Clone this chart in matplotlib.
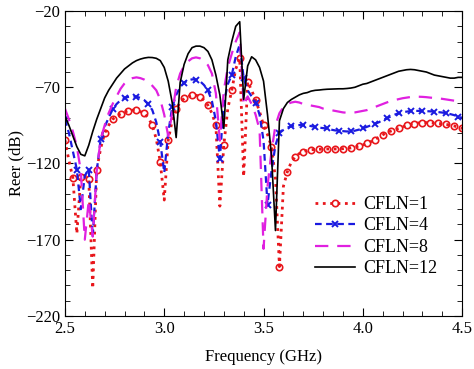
import matplotlib
matplotlib.use("Agg")
import matplotlib.pyplot as plt
import numpy as np
from matplotlib.ticker import MultipleLocator

plt.rcParams["font.family"] = ["Liberation Serif", "DejaVu Serif"]
plt.rcParams["font.size"] = 12

# frequency grid, 0.02 GHz step (2.50 ... 4.50)
freq = np.round(np.arange(2.50, 4.5001, 0.02), 2)

cfln1 = [-104.6, -118, -129.7, -166, -129, -128, -130.4, -202, -124, -110,
         -100.2, -95, -91, -89, -87.5, -86.3, -85.4, -85, -85.2, -86,
         -87.2, -90, -95, -104, -119, -144, -104.6, -92, -84, -80,
         -77.3, -76, -75.2, -75.2, -76.2, -78.5, -81.8, -87, -95, -148,
         -108, -84, -72, -58, -51, -128.6, -66.4, -72, -78.4, -86,
         -95, -101, -109, -130, -187.7, -135, -125.4, -119, -115.5, -113.5,
         -112.3, -111.5, -111, -110.8, -110.7, -110.6, -110.5, -110.5, -110.5, -110.5,
         -110.3, -110, -109.8, -109.3, -108.6, -107.8, -106.8, -105.7, -104.3, -102.8,
         -101.2, -99.8, -98.8, -97.8, -97, -96, -95, -94.3, -93.8, -93.4,
         -93.2, -93.2, -93.3, -93.5, -93.7, -94, -94.4, -94.8, -95.4, -96.2,
         -97]

cfln4 = [-91, -100, -112, -124, -150, -128, -124, -168, -125, -104,
         -96, -90, -84.5, -81, -78.5, -77, -76.3, -76, -76.2, -77,
         -78.5, -81, -85, -93, -106, -126, -100, -83, -75, -70,
         -67, -65.5, -64.8, -65, -66, -68.5, -72, -79, -92, -117,
         -80, -68, -62, -50, -42, -64, -72, -76, -80, -88,
         -105, -147, -125, -108, -100, -98, -96.5, -95.5, -95, -94.8,
         -94.8, -95, -95.5, -96, -96.5, -96.8, -97, -97.8, -98.3, -98.5,
         -98.8, -99, -99, -98.5, -97.8, -97, -96, -95, -94, -93,
         -91.5, -90.4, -89.2, -88, -87, -86.3, -86, -85.6, -85.5, -85.5,
         -85.6, -85.7, -85.8, -86, -86.3, -86.6, -87, -87.6, -88.3, -89.3,
         -90]

cfln8 = [-84, -91, -99, -109, -125, -170, -144, -168, -125, -104,
         -95, -87, -81, -76, -71, -67.5, -65, -64, -63.5, -64,
         -65, -66.5, -69, -72, -78, -88, -102, -87, -70, -61,
         -56, -53, -51, -50.4, -51, -52.5, -55.5, -61, -74, -105,
         -72, -57, -48, -40, -34, -82, -76, -81, -88, -98,
         -176, -135, -112, -95, -87, -83, -81, -80, -79.5, -80,
         -81, -81.5, -82, -82.5, -83, -84, -84.5, -85, -85.5, -86,
         -86.5, -86.7, -86.7, -86.5, -86, -85.5, -85, -84, -83, -82,
         -81, -80, -79, -78.4, -77.8, -77.2, -76.8, -76.4, -76.2, -76.2,
         -76.3, -76.5, -76.8, -77, -77.3, -77.6, -78, -78.4, -78.8, -79.2,
         -79.5]

cfln12 = [-89, -95, -102, -109, -114, -115, -108, -99, -91, -84,
          -77, -72, -68, -64, -61, -58, -56, -54, -52.5, -51.5,
          -50.8, -50.4, -50.5, -51, -52.5, -57, -66, -80, -103, -67,
          -55, -48, -44, -43, -43, -44, -46.5, -52, -62, -75,
          -97, -52, -40, -30, -27, -78, -56, -50, -52, -57,
          -66, -88, -115, -164, -92, -84, -80, -78, -76.5, -75,
          -74, -73.5, -72.5, -72, -71.8, -71.5, -71.3, -71.2, -71.1, -71,
          -71, -70.8, -70.5, -70, -69, -68, -67.5, -66.5, -65.5, -64.5,
          -63.5, -62.5, -61.5, -60.5, -59.5, -59, -58.5, -58.3, -58.5, -59,
          -59.5, -60, -61, -62, -62.5, -63, -63.5, -64, -64, -63.5,
          -63.5]

labels = ["CFLN=1", "CFLN=4", "CFLN=8", "CFLN=12"]

fig = plt.figure(figsize=(4.74, 3.69), dpi=100)
ax = fig.add_axes([0.137, 0.144, 0.838, 0.826])

ax.plot(freq, cfln1, color="#e8161b", ls=":", lw=2.0, marker="o", ms=4.6,
        mfc="none", mew=1.2, markevery=2, label=labels[0])
ax.plot(freq, cfln4, color="#1a1ae0", ls="--", lw=1.6, marker="x", ms=5,
        mew=1.4, markevery=3, dashes=(3, 2), label=labels[1])
ax.plot(freq, cfln8, color="#e020e0", ls="--", lw=1.6, dashes=(6, 4),
        label=labels[2])
ax.plot(freq, cfln12, color="black", lw=1.2, label=labels[3])

ax.set_xlim(2.5, 4.5)
ax.set_ylim(-220, -20)
ax.set_xticks([2.5, 3.0, 3.5, 4.0, 4.5])
ax.set_yticks([-20, -70, -120, -170, -220])
ax.xaxis.set_minor_locator(MultipleLocator(0.1))
ax.yaxis.set_minor_locator(MultipleLocator(10))
ax.tick_params(which="both", direction="in", top=True, right=True)
ax.tick_params(which="major", length=6)
ax.tick_params(which="minor", length=3.5)
ax.set_xlabel("Frequency (GHz)", labelpad=9)
ax.set_ylabel("Reer (dB)", labelpad=1)

ax.legend(loc="lower right", bbox_to_anchor=(0.978, 0.073), frameon=False,
          handlelength=2.2, handletextpad=0.45, fontsize=13, labelspacing=0.25)

fig.savefig("out.png", dpi=100)
